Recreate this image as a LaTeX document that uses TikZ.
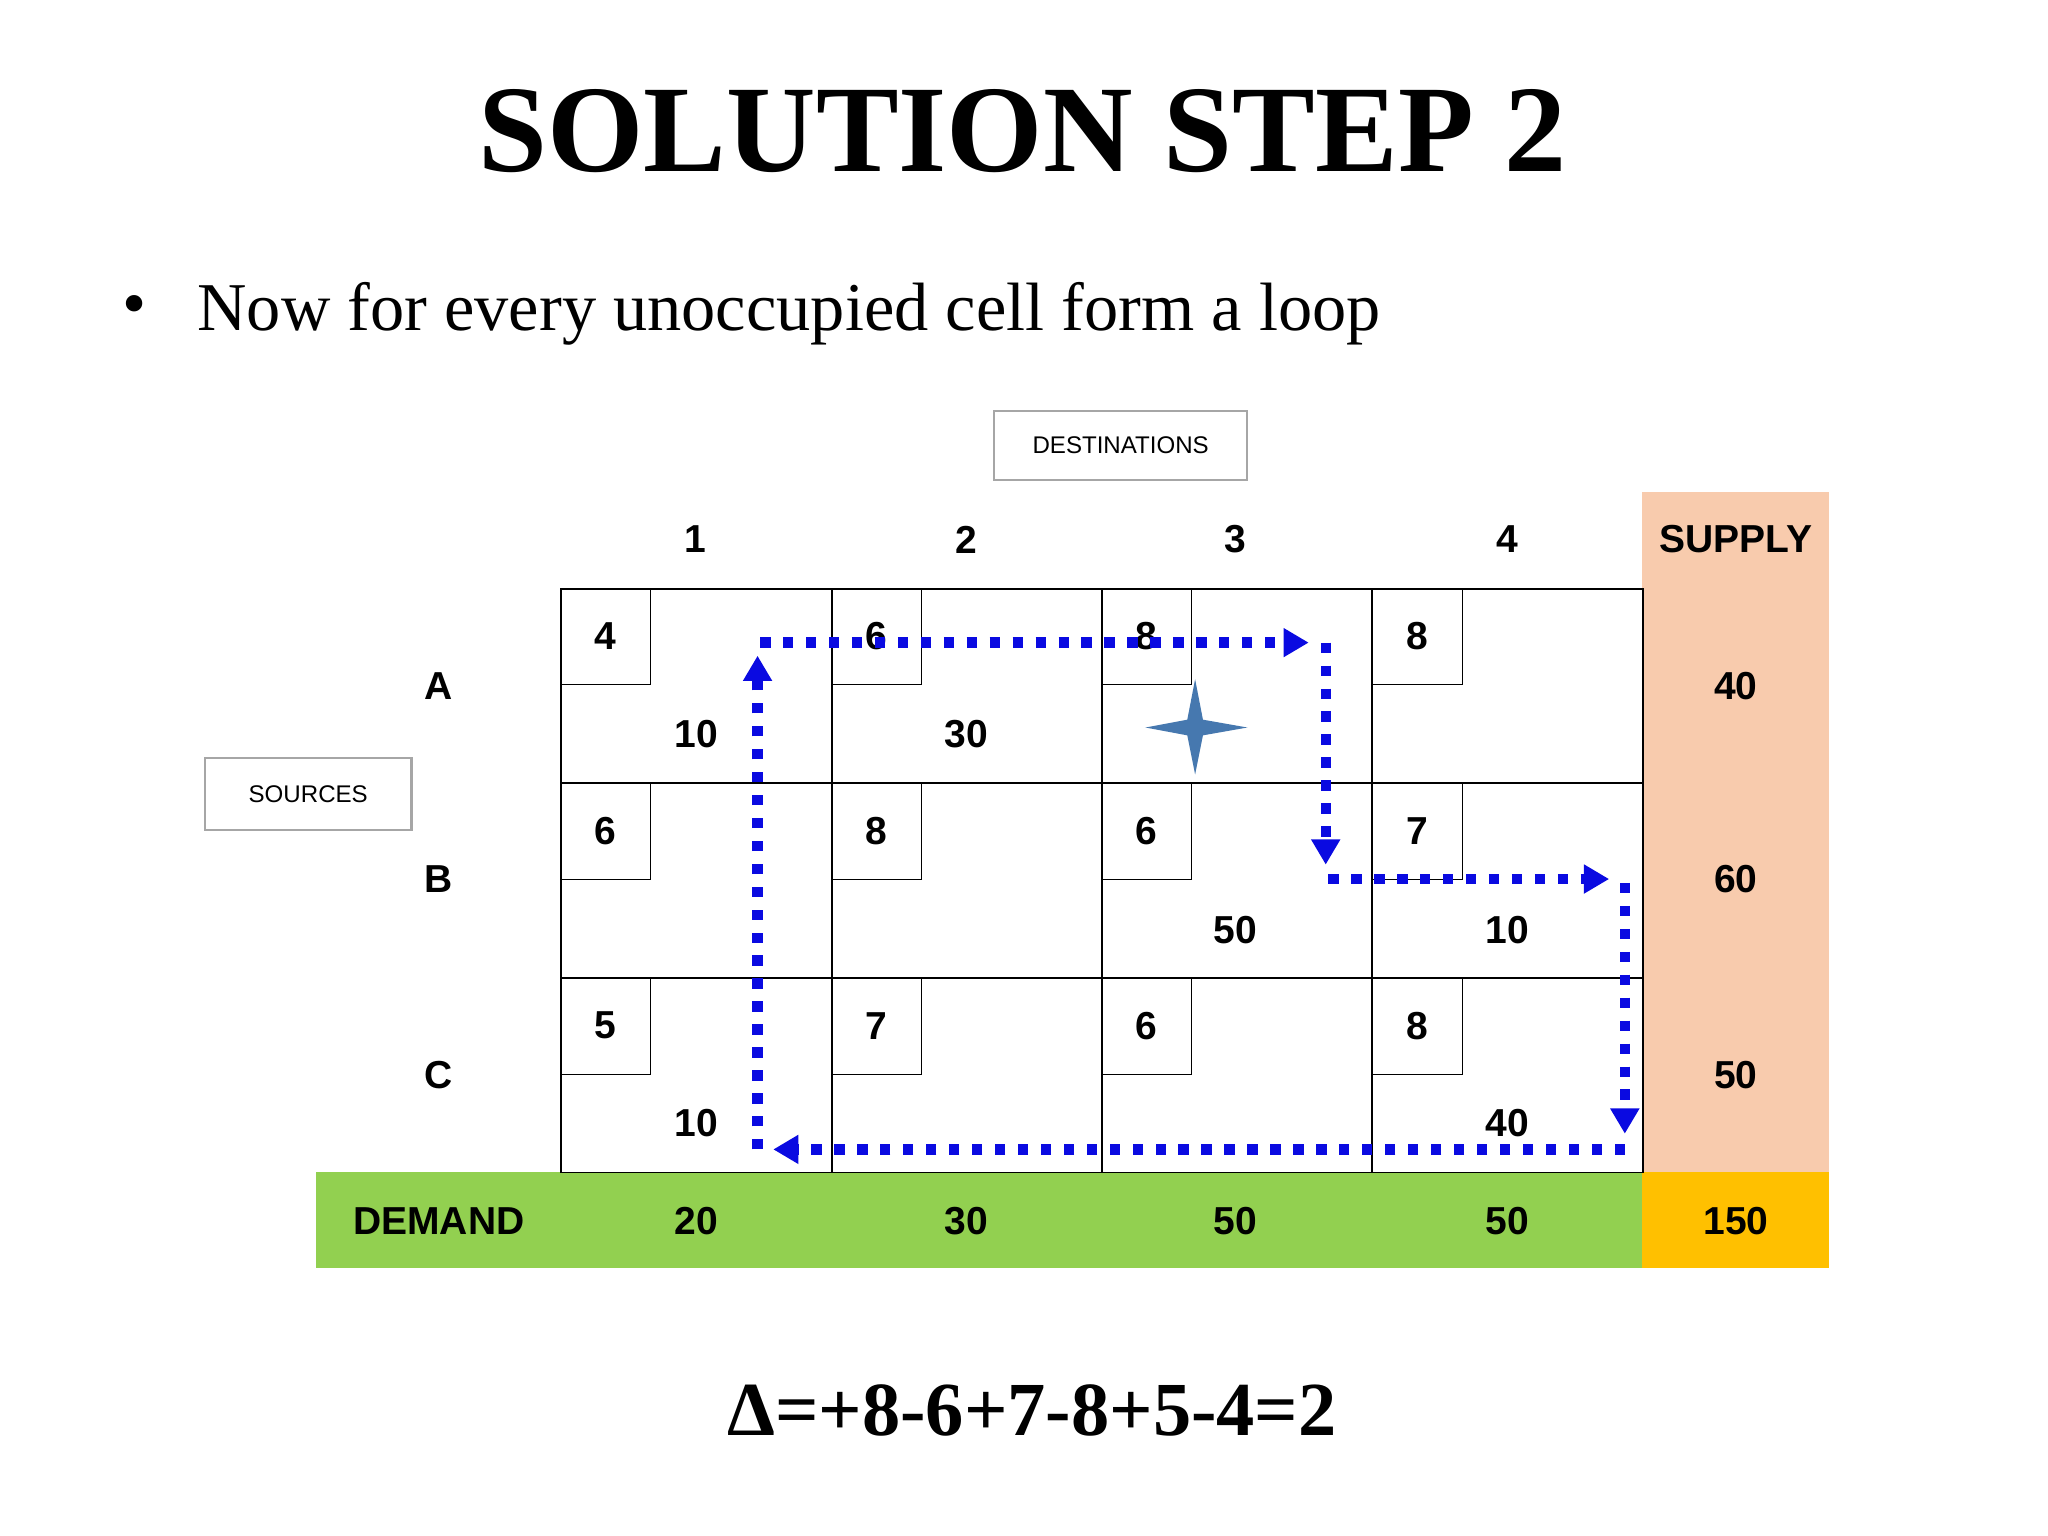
\documentclass[tikz,border=0pt]{standalone}
\usepackage{fontspec}
\setmainfont{Liberation Serif}
\setsansfont{Liberation Sans}
\usetikzlibrary{positioning,calc,arrows.meta}
\definecolor{peach}{HTML}{F8CBAD}
\definecolor{dgreen}{HTML}{92D050}
\definecolor{dorange}{HTML}{FFC000}
\definecolor{loopblue}{RGB}{10,10,225}
\definecolor{starblue}{RGB}{70,120,175}
\begin{document}
\begin{tikzpicture}[x=0.02cm, y=-0.02cm,
    cell/.style={rectangle, draw=black, thick, minimum width=4.14cm, minimum height=2.98cm, inner sep=0pt, anchor=north west},
    cost/.style={rectangle, draw=black, thin, minimum width=1.38cm, minimum height=1.48cm, inner sep=0pt, anchor=north west, font=\sffamily\bfseries\fontsize{17}{20}\selectfont},
    lbl/.style={font=\sffamily\bfseries\fontsize{17}{20}\selectfont},
    tag/.style={rectangle, draw=black!35, line width=1pt, inner sep=0pt, font=\sffamily\fontsize{10.5}{12}\selectfont},
    path/.style={loopblue, line width=4.5pt, dash pattern=on 4.5pt off 5.5pt, -{Triangle[length=11pt,width=12pt]}},
    ]
    \useasboundingbox (0,0) rectangle (1568,1176);

    % title and text
    \node[font=\bfseries\fontsize{54}{60}\selectfont] (title) at (783,100) {SOLUTION STEP 2};
    \node[font=\fontsize{30}{36}\selectfont] (bullet) at (103,238) {\textbullet};
    \node[anchor=west, font=\fontsize{29.8}{36}\selectfont] (line) at (145,240) {Now for every unoccupied cell form a loop};
    \node[font=\bfseries\fontsize{33.3}{40}\selectfont] (delta) at (790,1080) {Δ=+8-6+7-8+5-4=2};

    % side tags
    \node[tag, minimum width=3.88cm, minimum height=1.06cm] (dest) at (858,341) {DESTINATIONS};
    \node[tag, minimum width=3.16cm, minimum height=1.1cm] (src) at (236,608) {SOURCES};

    % coloured bands
    \fill[peach]   (1257,377) rectangle (1400,897);
    \fill[dgreen]  (242,897) rectangle (1257,971);
    \fill[dorange] (1257,897) rectangle (1400,971);
    \node[lbl] (supply) at (1329,413) {SUPPLY};
    \node[lbl] (demand) at (336,935) {DEMAND};

    % headers
    \foreach \c/\x in {1/532,2/740,3/946,4/1154}
        \node[lbl] (h\c) at (\x,413) {\c};
    \foreach \r/\y in {A/525,B/673,C/823}
        \node[lbl] (r\r) at (336,\y) {\r};

    % cells with costs
    \foreach \r/\y/\ca/\cb/\cc/\cd in {A/450/4/6/8/8, B/599/6/8/6/7, C/748/5/7/6/8}{
        \node[cell] (\r1) at (429,\y) {};
        \node[cell] (\r2) at (636,\y) {};
        \node[cell] (\r3) at (843,\y) {};
        \node[cell] (\r4) at (1050,\y) {};
        \node[cost] (k\r1) at (429,\y) {\ca};
        \node[cost] (k\r2) at (636,\y) {\cb};
        \node[cost] (k\r3) at (843,\y) {\cc};
        \node[cost] (k\r4) at (1050,\y) {\cd};
    }

    % allocations
    \node[lbl] (aA1) at (533,562) {10};
    \node[lbl] (aA2) at (740,562) {30};
    \node[lbl] (aB3) at (946,712) {50};
    \node[lbl] (aB4) at (1154,712) {10};
    \node[lbl] (aC1) at (533,860) {10};
    \node[lbl] (aC4) at (1154,860) {40};

    % supply and demand
    \node[lbl] (sA) at (1329,525) {40};
    \node[lbl] (sB) at (1329,673) {60};
    \node[lbl] (sC) at (1329,823) {50};
    \node[lbl] (d1) at (533,935) {20};
    \node[lbl] (d2) at (740,935) {30};
    \node[lbl] (d3) at (946,935) {50};
    \node[lbl] (d4) at (1154,935) {50};
    \node[lbl] (dT) at (1329,935) {150};

    % star in the empty cell
    \fill[starblue] (915,520) -- (921,551) -- (955,557) -- (921,563) -- (915,593)
        -- (909,563) -- (877,557) -- (909,551) -- cycle;

    % loop
    \coordinate (p1) at (580,880);
    \coordinate (p2) at (580,502);
    \coordinate (p3) at (582,492);
    \coordinate (p4) at (1002,492);
    \coordinate (p5) at (1015,492);
    \coordinate (p6) at (1015,662);
    \coordinate (p7) at (1017,673);
    \coordinate (p8) at (1232,673);
    \coordinate (p9) at (1244,676);
    \coordinate (p10) at (1244,868);
    \coordinate (p11) at (1244,880);
    \coordinate (p12) at (592,880);
    \draw[path] (p1) -- (p2);
    \draw[path] (p3) -- (p4);
    \draw[path] (p5) -- (p6);
    \draw[path] (p7) -- (p8);
    \draw[path] (p9) -- (p10);
    \draw[path] (p11) -- (p12);
\end{tikzpicture}
\end{document}
